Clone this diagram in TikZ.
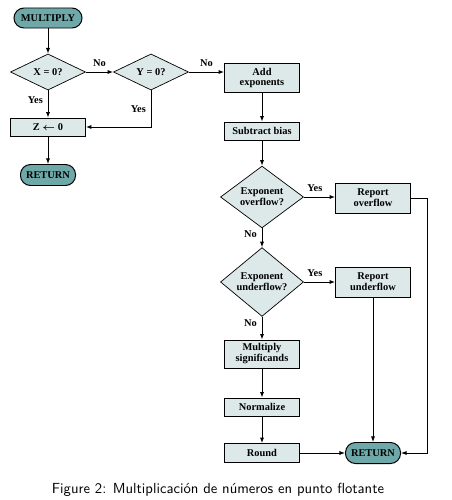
\documentclass[tikz,border=0pt]{standalone}
\usepackage{amsmath}
\usepackage{fontspec}
\setmainfont{Liberation Serif}
\usepackage{xcolor}
\usetikzlibrary{arrows.meta,positioning,shapes.geometric,calc}
\definecolor{termfill}{HTML}{6FA8A8}
\definecolor{boxfill}{HTML}{DDE9E9}

\begin{document}
\begin{tikzpicture}[
  x=0.025cm, y=-0.025cm,
  every node/.style={align=center, font=\fontsize{7.4}{7.8}\selectfont\bfseries},
  ar/.style={-{Latex[length=4pt,width=3pt]}, line width=0.7pt},
  term/.style={draw, line width=0.7pt, fill=termfill, rounded corners=0.25cm, inner sep=1pt},
  proc/.style={draw, line width=0.5pt, fill=boxfill, minimum width=1.875cm, inner sep=1pt},
  test/.style={draw, line width=0.5pt, fill=boxfill, diamond, inner sep=0pt}
]
\useasboundingbox (0,0) rectangle (452,500);
% left column
\node[term, minimum width=1.7cm, minimum height=0.5cm] (mult) at (48,18) {MULTIPLY};
\node[test, minimum width=1.875cm, minimum height=0.775cm] (xz) at (48,72) {X = 0?};
\node[test, minimum width=1.875cm, minimum height=0.775cm] (yz) at (151,72) {Y = 0?};
\node[proc, minimum height=0.45cm] (zero) at (48,127) {Z $\boldsymbol{\leftarrow}$ 0};
\node[term, minimum width=1.375cm, minimum height=0.525cm] (retA) at (48,175) {RETURN};
% right column
\node[proc, minimum height=0.725cm] (addexp) at (262,78) {Add\\exponents};
\node[proc, minimum height=0.45cm] (subbias) at (262,131) {Subtract bias};
\node[test, minimum width=2.075cm, minimum height=1.375cm] (ovf) at (262,197) {Exponent\\overflow?};
\node[proc, minimum height=0.75cm] (repovf) at (373,198) {Report\\overflow};
\node[test, minimum width=2.075cm, minimum height=1.375cm] (unf) at (262,282) {Exponent\\underflow?};
\node[proc, minimum height=0.75cm] (repunf) at (373,282) {Report\\underflow};
\node[proc, minimum height=0.7cm] (mulsig) at (262,354) {Multiply\\significands};
\node[proc, minimum height=0.45cm] (norm) at (262,407) {Normalize};
\node[proc, minimum height=0.475cm] (rnd) at (262,453) {Round};
\node[term, minimum width=1.375cm, minimum height=0.525cm] (retB) at (373,453) {RETURN};
% caption
\node[font=\sffamily\fontsize{10.4}{12}\selectfont] (cap) at (218,490) {Figure 2: Multiplicación de números en punto flotante};
% connectors
\draw[ar] (mult) -- (xz);
\draw[ar] (xz) -- node[above] {No} (yz);
\draw[ar] (yz.east) -- node[above] {No} (yz.east -| addexp.west);
\draw[ar] (xz) -- node[left, pos=0.35] {Yes} (zero);
\draw[ar] (yz.south) |- node[left, pos=0.25] {Yes} (zero.east);
\draw[ar] (zero) -- (retA);
\draw[ar] (addexp) -- (subbias);
\draw[ar] (subbias) -- (ovf);
\draw[ar] (ovf) -- node[above, pos=0.35] {Yes} (ovf -| repovf.west);
\draw[ar] (ovf) -- node[left, pos=0.3] {No} (unf);
\draw[ar] (unf) -- node[above, pos=0.35] {Yes} (unf -| repunf.west);
\draw[ar] (unf) -- node[left, pos=0.3] {No} (mulsig);
\draw[ar] (mulsig) -- (norm);
\draw[ar] (norm) -- (rnd);
\draw[ar] (rnd) -- (retB);
\draw[ar] (repunf) -- (retB);
\draw[ar] (repovf.east) -- ++(17,0) |- (retB.east);
\end{tikzpicture}
\end{document}
